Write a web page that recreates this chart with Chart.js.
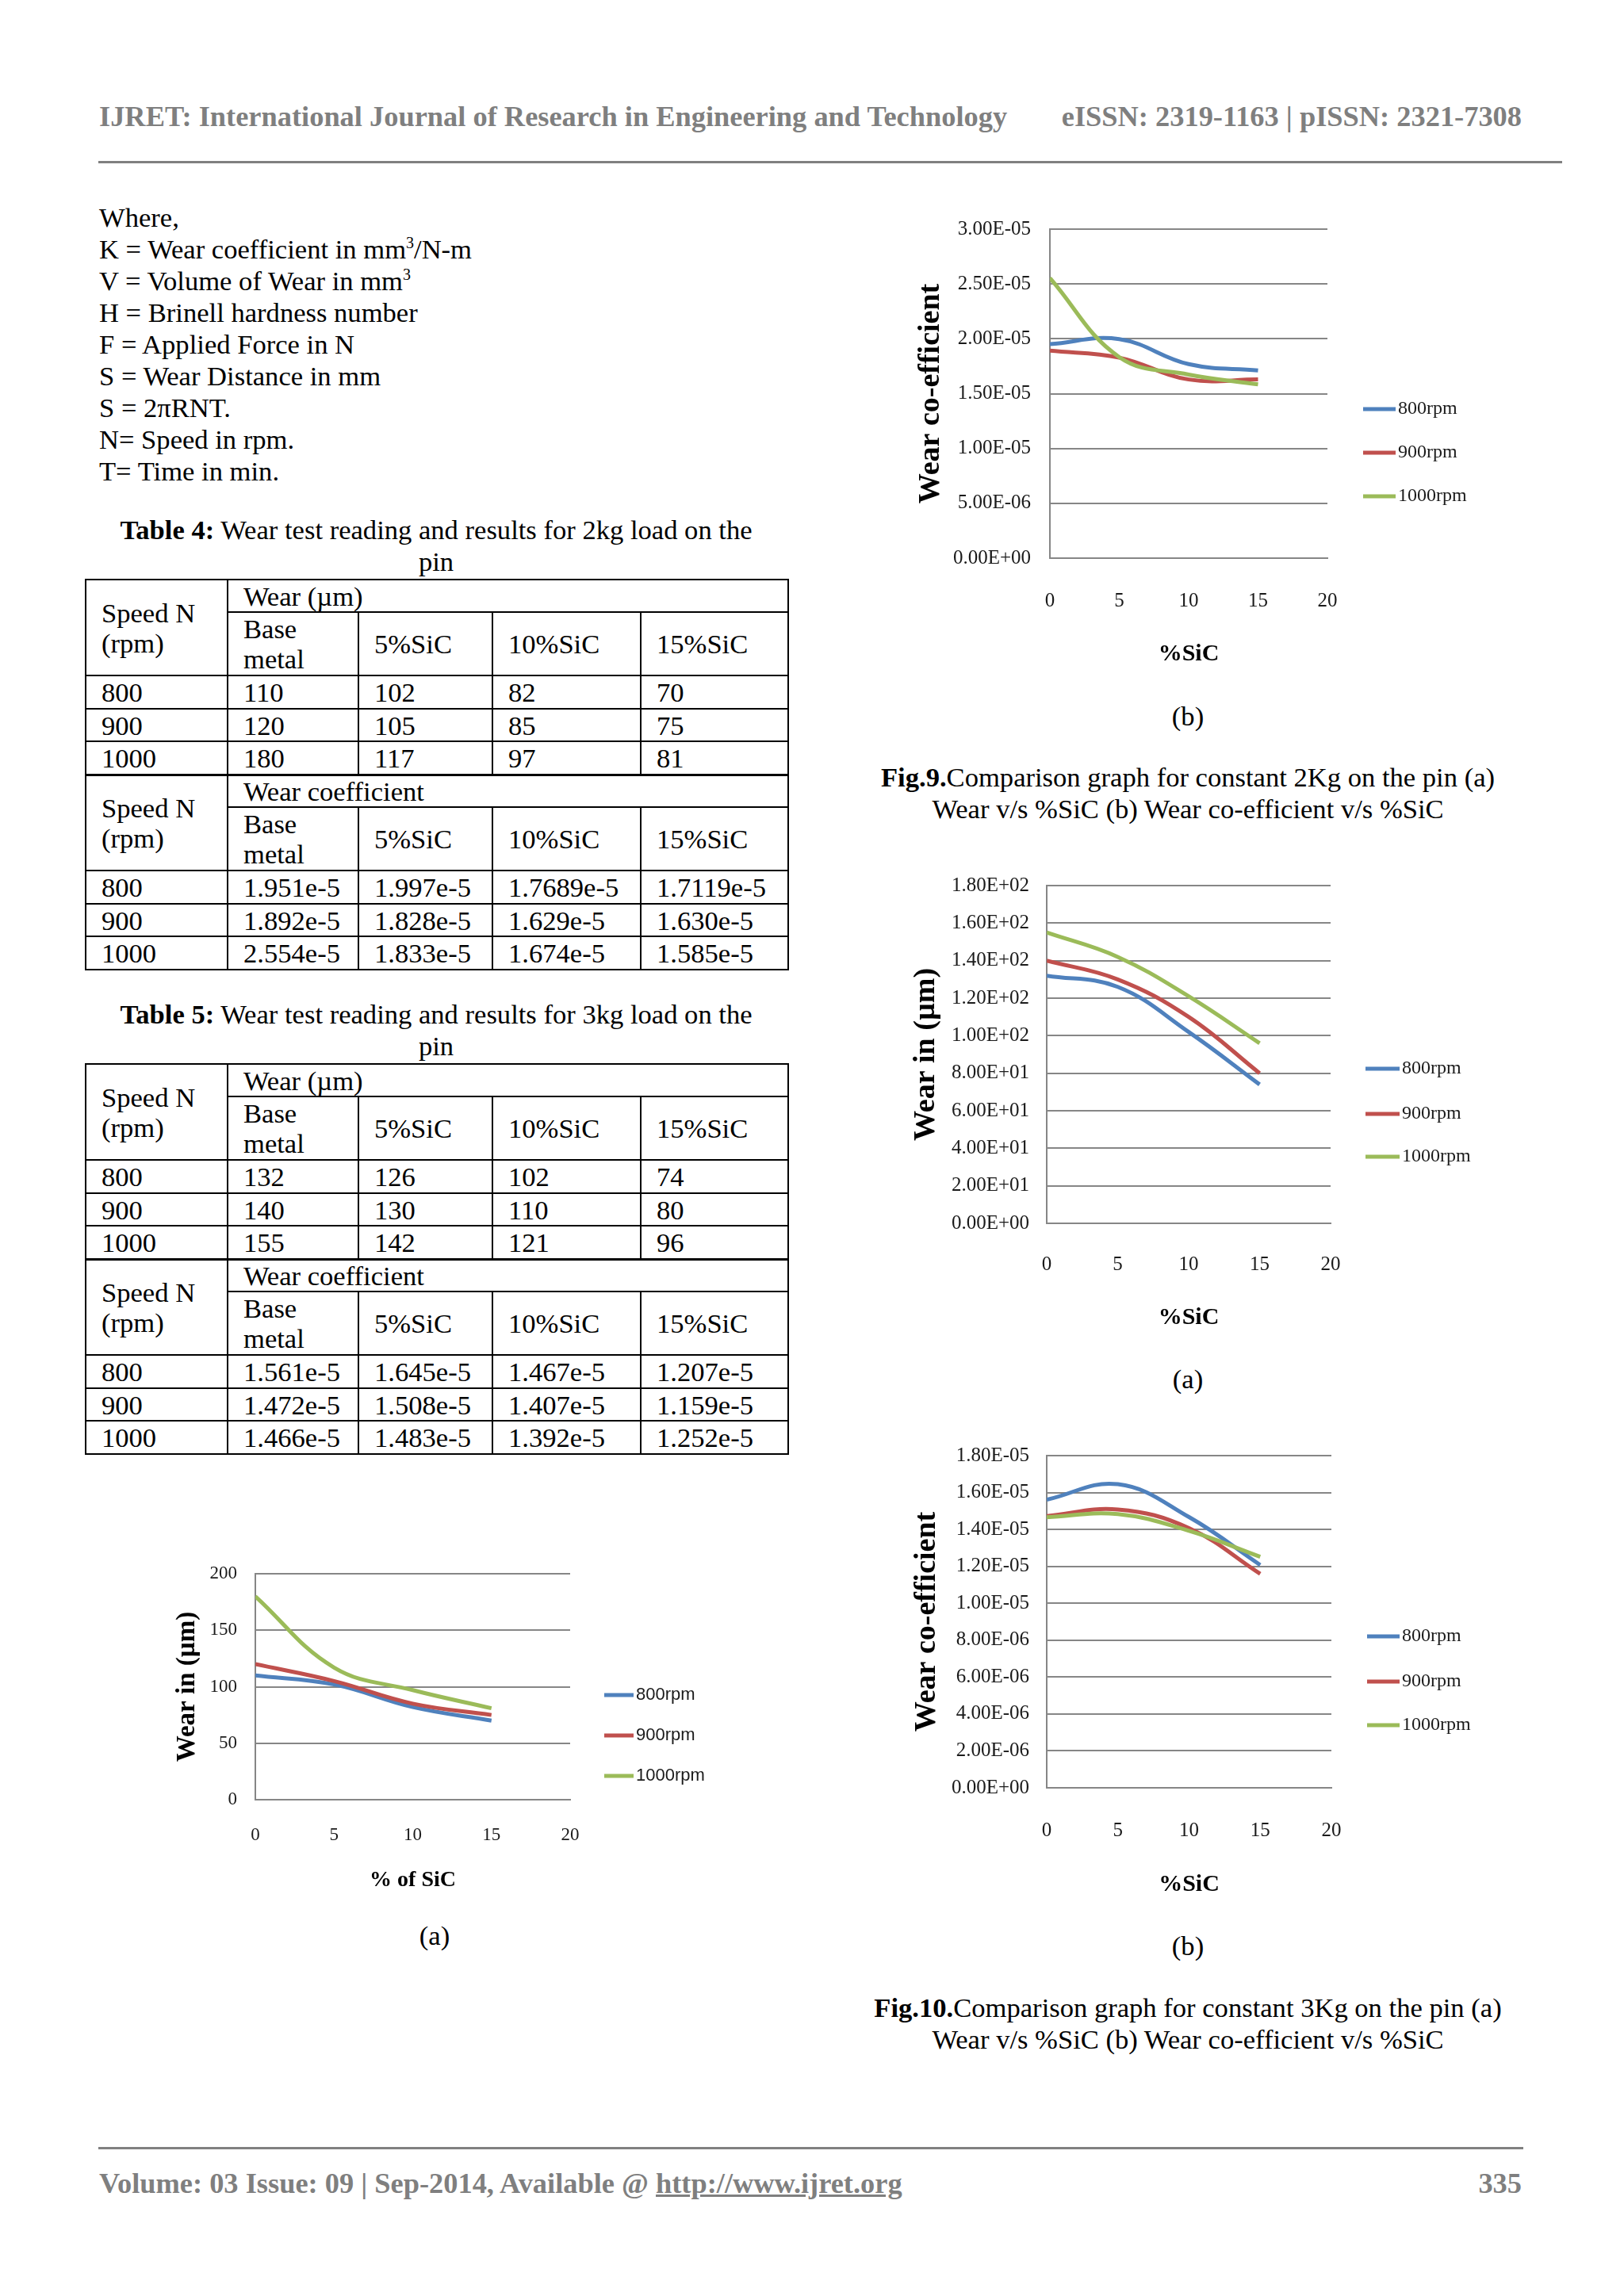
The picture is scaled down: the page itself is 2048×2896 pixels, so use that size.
<!DOCTYPE html>
<html>
<head>
<meta charset="utf-8">
<title>IJRET wear charts</title>
<script src="https://cdn.jsdelivr.net/npm/chart.js@4.4.1/dist/chart.umd.min.js"></script>
<style>
  body { margin: 0; background: #fff; }
  #page { position: relative; width: 2048px; height: 2896px; background: #fff; overflow: hidden;
          font-family: "Liberation Serif", "Times New Roman", serif; color: #000; }
  .t { position: absolute; white-space: nowrap; font-size: 34.6px; line-height: 40px; }
  .c { text-align: center; width: 1000px; }
  .hdr { position: absolute; white-space: nowrap; font-weight: bold; color: #7f7f7f; font-size: 36.4px; line-height: 40px; }
  .rule { position: absolute; background: #808080; height: 3px; }
  sup { font-size: 20px; line-height: 0; vertical-align: 13px; }
  table { position: absolute; border-collapse: collapse; table-layout: fixed; width: 886px;
          font-size: 34.6px; line-height: 38px; }
  td { border: 2px solid #000; padding: 0 0 0 19px; vertical-align: middle; white-space: nowrap; }
  tr.sep td { border-top: 3px solid #000; }
  canvas { position: absolute; }
</style>
</head>
<body>
<div id="page">
  <div class="hdr" style="left:125px;top:127px;">IJRET: International Journal of Research in Engineering and Technology</div>
  <div class="hdr" style="right:129px;top:127px;">eISSN: 2319-1163 | pISSN: 2321-7308</div>
  <div class="rule" style="left:124px;top:203px;width:1846px;"></div>

  <div class="t" style="left:125px;top:254px;">
    Where,<br>
    K = Wear coefficient in mm<sup>3</sup>/N-m<br>
    V = Volume of Wear in mm<sup>3</sup><br>
    H = Brinell hardness number<br>
    F = Applied Force in N<br>
    S = Wear Distance in mm<br>
    S = 2&pi;RNT.<br>
    N= Speed in rpm.<br>
    T= Time in min.
  </div>

  <div class="t c" style="left:50px;top:648px;"><b>Table 4:</b> Wear test reading and results for 2kg load on the<br>pin</div>
  <table id="table4" style="left:107px;top:730px;"></table>

  <div class="t c" style="left:50px;top:1259px;"><b>Table 5:</b> Wear test reading and results for 3kg load on the<br>pin</div>
  <table id="table5" style="left:107px;top:1341px;"></table>

  <canvas id="fig9a"></canvas>
  <div class="t c" style="left:48px;top:2421px;">(a)</div>

  <canvas id="fig9b"></canvas>
  <div class="t c" style="left:998px;top:883px;">(b)</div>
  <div class="t c" style="left:998px;top:960px;"><b>Fig.9.</b>Comparison graph for constant 2Kg on the pin (a)<br>Wear v/s %SiC (b) Wear co-efficient v/s %SiC</div>

  <canvas id="fig10a"></canvas>
  <div class="t c" style="left:998px;top:1719px;">(a)</div>

  <canvas id="fig10b"></canvas>
  <div class="t c" style="left:998px;top:2434px;">(b)</div>
  <div class="t c" style="left:998px;top:2512px;"><b>Fig.10.</b>Comparison graph for constant 3Kg on the pin (a)<br>Wear v/s %SiC (b) Wear co-efficient v/s %SiC</div>

  <div class="rule" style="left:124px;top:2708px;width:1797px;"></div>
  <div class="hdr" style="left:125px;top:2734px;">Volume: 03 Issue: 09 | Sep-2014, Available @ <span style="text-decoration:underline;">http://www.ijret.org</span></div>
  <div class="hdr" style="right:129px;top:2734px;">335</div>
</div>

<script>
// % SiC on the x axis, one point per composition
const sicPct = [0, 5, 10, 15];
const speeds = ['800rpm', '900rpm', '1000rpm'];
const speedRows = ['800', '900', '1000'];
const compHeads = ['Base<br>metal', '5%SiC', '10%SiC', '15%SiC'];

// Table 4 : 2kg load
const wear2kg800 = [110, 102, 82, 70];
const wear2kg900 = [120, 105, 85, 75];
const wear2kg1000 = [180, 117, 97, 81];
const coef2kg800 = [1.951e-5, 1.997e-5, 1.7689e-5, 1.7119e-5];
const coef2kg900 = [1.892e-5, 1.828e-5, 1.629e-5, 1.630e-5];
const coef2kg1000 = [2.554e-5, 1.833e-5, 1.674e-5, 1.585e-5];

// Table 5 : 3kg load
const wear3kg800 = [132, 126, 102, 74];
const wear3kg900 = [140, 130, 110, 80];
const wear3kg1000 = [155, 142, 121, 96];
const coef3kg800 = [1.561e-5, 1.645e-5, 1.467e-5, 1.207e-5];
const coef3kg900 = [1.472e-5, 1.508e-5, 1.407e-5, 1.159e-5];
const coef3kg1000 = [1.466e-5, 1.483e-5, 1.392e-5, 1.252e-5];

const seriesColors = ['#4f81bd', '#c0504d', '#9bbb59'];
const gridGray = '#868686';
const serif = '"Liberation Serif", "Times New Roman", serif';

// ---------- tables ----------
function coefText(v) {
  let s = v.toExponential();
  let [m, e] = s.split('e');
  if (m.indexOf('.') < 0) m += '.';
  while (m.split('.')[1].length < 3) m += '0';
  return m + 'e' + e;
}

function buildTable(id, wearRows, coefRows) {
  const colW = [179, 165, 169, 187, 186];
  const rowH = [41, 80, 42, 41, 42, 41, 80, 42, 41, 42];
  let h = '<colgroup>' + colW.map(w => '<col style="width:' + w + 'px">').join('') + '</colgroup>';
  let r = 0;
  function block(title, rows, fmt, sep) {
    h += '<tr' + (sep ? ' class="sep"' : '') + ' style="height:' + rowH[r++] + 'px"><td rowspan="2">Speed N<br>(rpm)</td><td colspan="4">' + title + '</td></tr>';
    h += '<tr style="height:' + rowH[r++] + 'px">' + compHeads.map(c => '<td>' + c + '</td>').join('') + '</tr>';
    rows.forEach((vals, i) => {
      h += '<tr style="height:' + rowH[r++] + 'px"><td>' + speedRows[i] + '</td>' + vals.map(v => '<td>' + fmt(v) + '</td>').join('') + '</tr>';
    });
  }
  block('Wear (&micro;m)', wearRows, v => String(v), false);
  block('Wear coefficient', coefRows, coefText, true);
  document.getElementById(id).innerHTML = h;
}

buildTable('table4', [wear2kg800, wear2kg900, wear2kg1000], [coef2kg800, coef2kg900, coef2kg1000]);
buildTable('table5', [wear3kg800, wear3kg900, wear3kg1000], [coef3kg800, coef3kg900, coef3kg1000]);

// ---------- charts ----------
function sciLabel(v) {
  const [m, e] = Number(v).toExponential(2).split('e');
  const n = Math.abs(parseInt(e, 10));
  return m + 'E' + (e[0] === '-' ? '-' : '+') + String(n).padStart(2, '0');
}

// legend drawn to the right of the plot, like the Excel one
const sideLegend = {
  id: 'sideLegend',
  afterDraw(chart, args, opts) {
    const ctx = chart.ctx;
    ctx.save();
    chart.data.datasets.forEach((ds, i) => {
      const y = opts.rows[i];
      ctx.strokeStyle = ds.borderColor;
      ctx.lineWidth = ds.borderWidth;
      ctx.beginPath();
      ctx.moveTo(opts.x0, y);
      ctx.lineTo(opts.x1, y);
      ctx.stroke();
      ctx.fillStyle = '#1a1a1a';
      ctx.font = opts.font;
      ctx.textBaseline = 'middle';
      ctx.textAlign = 'left';
      ctx.fillText(ds.label, opts.x1 + 3, y);
    });
    ctx.restore();
  }
};

function makeChart(id, g, series, yMax, yStep, fmt, txt) {
  const canvas = document.getElementById(id);
  const cl = g.yTitleX - 40, ct = g.top - 40;
  const cr = g.legX1 + 175, cb = g.xTitleY + 40;
  canvas.width = cr - cl;
  canvas.height = cb - ct;
  canvas.style.left = cl + 'px';
  canvas.style.top = ct + 'px';

  const yTitleLH = txt.yTitleSize * 1.2;
  const xTitleLH = txt.xTitleSize * 1.2;
  const yScaleLeft = g.yTitleX - yTitleLH / 2;
  const wy = g.left - yScaleLeft;
  const hx = g.xTitleY + xTitleLH / 2 - g.bottom;
  const tickLH = txt.tickSize * 1.2;

  return new Chart(canvas, {
    type: 'line',
    data: {
      datasets: series.map((vals, i) => ({
        label: speeds[i],
        data: sicPct.map((x, j) => ({ x: x, y: vals[j] })),
        borderColor: seriesColors[i],
        backgroundColor: seriesColors[i],
        borderWidth: 5,
        pointRadius: 0,
        tension: 0.4,
        fill: false,
        order: series.length - i
      }))
    },
    options: {
      responsive: false,
      animation: false,
      devicePixelRatio: 1,
      layout: {
        padding: { left: yScaleLeft - cl, top: g.top - ct, right: cr - g.right, bottom: cb - (g.bottom + hx) }
      },
      plugins: {
        legend: { display: false },
        tooltip: { enabled: false },
        sideLegend: {
          x0: g.legX0 - cl, x1: g.legX1 - cl,
          rows: g.rows.map(y => y - ct),
          font: txt.legendFont
        }
      },
      scales: {
        x: {
          type: 'linear', min: 0, max: 20,
          ticks: { stepSize: 5, padding: g.xTickY - g.bottom - tickLH / 2, color: '#1a1a1a',
                   font: { family: serif, size: txt.tickSize } },
          grid: { display: false, drawTicks: false },
          border: { display: true, color: gridGray, width: 2 },
          title: { display: true, text: txt.xTitle, color: '#000', padding: 0,
                   font: { family: serif, size: txt.xTitleSize, weight: 'bold' } },
          afterFit: s => { s.height = hx; }
        },
        y: {
          min: 0, max: yMax,
          ticks: { stepSize: yStep, padding: g.left - g.yTickRight, color: '#1a1a1a', callback: fmt,
                   font: { family: serif, size: txt.tickSize } },
          grid: { color: gridGray, lineWidth: 2, drawTicks: false },
          border: { display: true, color: gridGray, width: 2 },
          title: { display: true, text: txt.yTitle, color: '#000', padding: 0,
                   font: { family: serif, size: txt.yTitleSize, weight: 'bold' } },
          afterFit: s => { s.width = wy; }
        }
      }
    },
    plugins: [sideLegend]
  });
}

const rightTxt = (xTitle, yTitle) => ({
  xTitle: xTitle, yTitle: yTitle, xTitleSize: 30, yTitleSize: 38, tickSize: 25,
  legendFont: '24px ' + serif
});

// Fig.9 (a) - wear, 2kg
makeChart('fig9a',
  { left: 322, top: 1985, right: 719, bottom: 2270, yTickRight: 299, xTickY: 2315, xTitleY: 2372,
    yTitleX: 236, legX0: 762, legX1: 799, rows: [2138, 2189, 2240] },
  [wear2kg800, wear2kg900, wear2kg1000], 200, 50, v => v,
  { xTitle: '% of SiC', yTitle: 'Wear in (\u00b5m)', xTitleSize: 28, yTitleSize: 33, tickSize: 23,
    legendFont: '22px "Liberation Sans", Arial, sans-serif' });

// Fig.9 (b) - wear coefficient, 2kg
makeChart('fig9b',
  { left: 1324, top: 289, right: 1674, bottom: 704, yTickRight: 1300, xTickY: 758, xTitleY: 825,
    yTitleX: 1174, legX0: 1719, legX1: 1760, rows: [516, 571, 626] },
  [coef2kg800, coef2kg900, coef2kg1000], 3e-5, 5e-6, sciLabel,
  rightTxt('%SiC', 'Wear co-efficient'));

// Fig.10 (a) - wear, 3kg
makeChart('fig10a',
  { left: 1320, top: 1117, right: 1678, bottom: 1543, yTickRight: 1298, xTickY: 1595, xTitleY: 1662,
    yTitleX: 1168, legX0: 1722, legX1: 1765, rows: [1348, 1405, 1459] },
  [wear3kg800, wear3kg900, wear3kg1000], 180, 20, sciLabel,
  rightTxt('%SiC', 'Wear in (\u00b5m)'));

// Fig.10 (b) - wear coefficient, 3kg
makeChart('fig10b',
  { left: 1320, top: 1836, right: 1679, bottom: 2255, yTickRight: 1298, xTickY: 2309, xTitleY: 2377,
    yTitleX: 1169, legX0: 1724, legX1: 1765, rows: [2064, 2121, 2176] },
  [coef3kg800, coef3kg900, coef3kg1000], 1.8e-5, 2e-6, sciLabel,
  rightTxt('%SiC', 'Wear co-efficient'));
</script>
</body>
</html>
